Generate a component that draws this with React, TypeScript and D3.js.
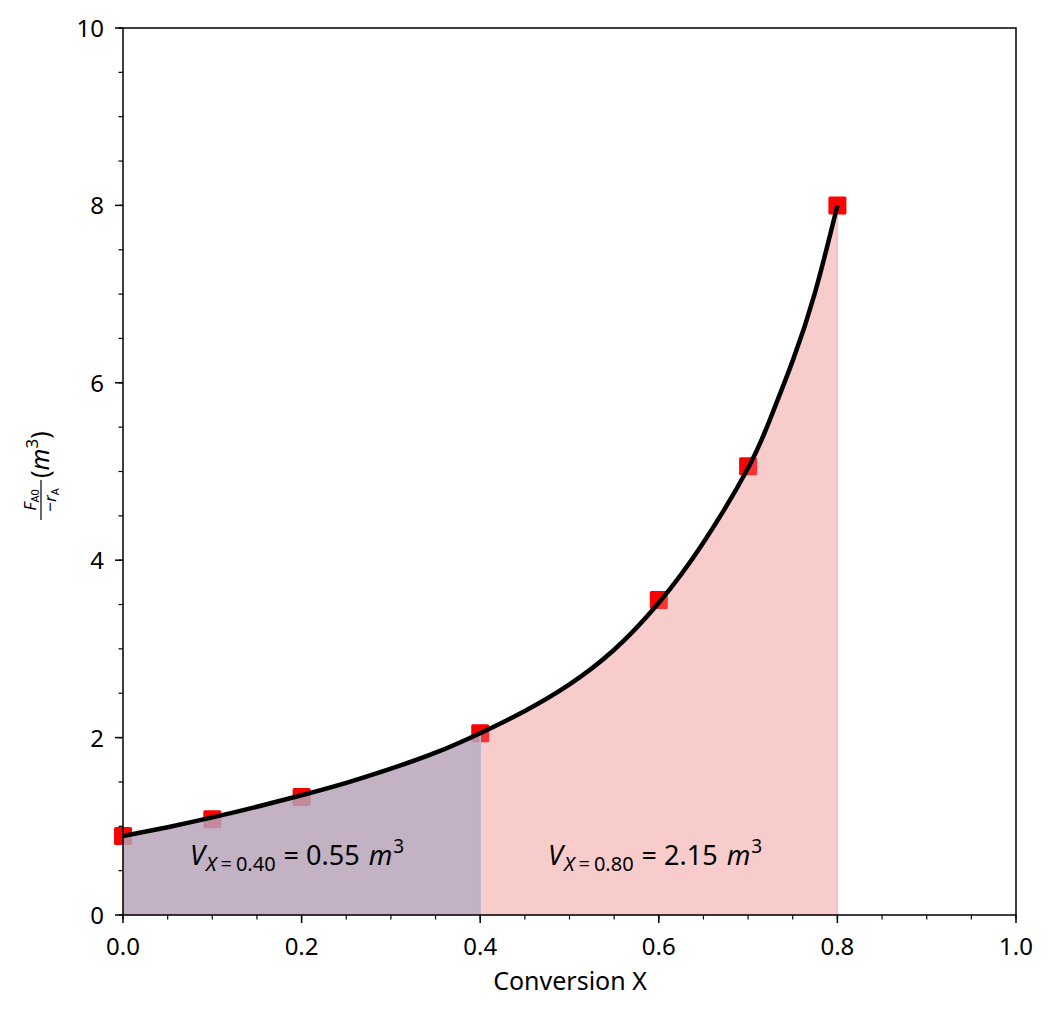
import React from "react";
import * as d3 from "d3";

// Measured data points (Conversion X, FA0/-rA in m^3)
const pointX = [0.0, 0.1, 0.2, 0.4, 0.6, 0.7, 0.8];
const pointY = [0.89, 1.08, 1.33, 2.05, 3.55, 5.06, 8.0];

// Fitted curve
const curveX = [0.0, 0.05, 0.1, 0.15, 0.2, 0.25, 0.3, 0.35, 0.4, 0.45, 0.5, 0.55, 0.6, 0.65, 0.7, 0.725, 0.75, 0.775, 0.8];
const curveY = [0.89, 0.99, 1.1, 1.22, 1.35, 1.49, 1.65, 1.83, 2.05, 2.3, 2.6, 2.99, 3.52, 4.2, 5.04, 5.6, 6.25, 7.02, 8.0];

const xTicks = [0, 0.2, 0.4, 0.6, 0.8, 1.0];
const yTicks = [0, 2, 4, 6, 8, 10];
const xMinorTicks = d3.range(0, 1.0001, 0.05);
const yMinorTicks = d3.range(0, 10.001, 0.5);

const limitLow = 0.4;
const limitHigh = 0.8;
const volumeLow = "0.55";
const volumeHigh = "2.15";

const W = 1055;
const H = 1014;
const L = 123, R = 1016, T = 28, B = 915;
const FONT = "'Noto Sans', 'Open Sans', sans-serif";

export default function App() {
  const x = d3.scaleLinear().domain([0, 1]).range([L, R]);
  const y = d3.scaleLinear().domain([0, 10]).range([B, T]);

  const pts = curveX.map((cx, i) => [cx, curveY[i]] as [number, number]);
  const line = d3.line<[number, number]>().x(d => x(d[0])).y(d => y(d[1])).curve(d3.curveNatural);
  const area = d3.area<[number, number]>().x(d => x(d[0])).y0(y(0)).y1(d => y(d[1])).curve(d3.curveNatural);
  const ptsHigh = pts.filter(p => p[0] <= limitHigh + 1e-9);
  const ptsLow = pts.filter(p => p[0] <= limitLow + 1e-9);
  const yAtLow = curveY[curveX.indexOf(limitLow)];

  const ms = 18;
  const fmt = (v: number) => v.toFixed(1);

  const annot = (x0: number, lim: string, vol: string) => (
    <text x={x0} y={865} fontSize={27} fontFamily={FONT} fill="#000">
      <tspan fontStyle="italic">V</tspan>
      <tspan fontSize={20} dy={6} dx={1} fontStyle="italic">X</tspan>
      <tspan fontSize={20} dx={4}>=</tspan>
      <tspan fontSize={20} dx={4}>{lim}</tspan>
      <tspan dy={-6} dx={8}>=</tspan>
      <tspan dx={7}>{vol}</tspan>
      <tspan dx={9} fontStyle="italic">m</tspan>
      <tspan fontSize={19} dy={-12} dx={1}>3</tspan>
    </text>
  );

  return (
    <svg width={W} height={H} style={{ position: "absolute", left: 0, top: 0, background: "#fff" }}>
      <rect x={0} y={0} width={W} height={H} fill="#fff" />
      {/* markers (under fills) */}
      {pointX.map((px, i) => (
        <rect key={i} x={x(px) - ms / 2} y={y(pointY[i]) - ms / 2} width={ms} height={ms} rx={1.5} fill="#ff0000" />
      ))}
      {/* fills */}
      <path d={area(ptsHigh) || ""} fill="lightcoral" fillOpacity={0.4} stroke="lightcoral" strokeOpacity={0.4} strokeWidth={1.5} />
      <path d={area(ptsLow) || ""} fill="rgb(175,170,192)" fillOpacity={0.75} />
      <line x1={x(limitLow)} x2={x(limitLow)} y1={y(0)} y2={y(yAtLow)} stroke="#b8b9d4" strokeWidth={1.5} />
      {/* curve */}
      <path d={line(pts) || ""} fill="none" stroke="#000" strokeWidth={4.5} />
      {/* annotations */}
      {annot(190, limitLow.toFixed(2), volumeLow)}
      {annot(548, limitHigh.toFixed(2), volumeHigh)}
      {/* frame */}
      <rect x={L} y={T} width={R - L} height={B - T} fill="none" stroke="#000" strokeWidth={1.5} />
      {/* x ticks */}
      {xMinorTicks.map((t, i) => (
        <line key={"xm" + i} x1={x(t)} x2={x(t)} y1={B} y2={B + 4.5} stroke="#000" strokeWidth={1.2} />
      ))}
      {xTicks.map((t, i) => (
        <g key={"x" + i}>
          <line x1={x(t)} x2={x(t)} y1={B} y2={B + 8} stroke="#000" strokeWidth={1.5} />
          <text x={x(t)} y={955} textAnchor="middle" fontSize={24} fontFamily={FONT}>{fmt(t)}</text>
        </g>
      ))}
      {/* y ticks */}
      {yMinorTicks.map((t, i) => (
        <line key={"ym" + i} x1={L - 4.5} x2={L} y1={y(t)} y2={y(t)} stroke="#000" strokeWidth={1.2} />
      ))}
      {yTicks.map((t, i) => (
        <g key={"y" + i}>
          <line x1={L - 8} x2={L} y1={y(t)} y2={y(t)} stroke="#000" strokeWidth={1.5} />
          <text x={104} y={y(t) + 9} textAnchor="end" fontSize={24} fontFamily={FONT}>{String(t)}</text>
        </g>
      ))}
      {/* axis labels */}
      <text x={570} y={990} textAnchor="middle" fontSize={25} fontFamily={FONT}>Conversion X</text>
      <g transform="translate(41,474) rotate(-90)" fontFamily={FONT}>
        <line x1={-46} x2={-6} y1={0} y2={0} stroke="#000" strokeWidth={1.2} />
        <text x={-26} y={-5} textAnchor="middle" fontSize={17}>
          <tspan fontStyle="italic">F</tspan>
          <tspan fontSize={11} dy={3}>A0</tspan>
        </text>
        <text x={-26} y={15} textAnchor="middle" fontSize={17}>
          <tspan>{"\u2212"}</tspan>
          <tspan fontStyle="italic">r</tspan>
          <tspan fontSize={11} dy={3}>A</tspan>
        </text>
        <text x={-4} y={8} fontSize={25}>
          <tspan>(</tspan>
          <tspan fontStyle="italic">m</tspan>
          <tspan fontSize={17} dy={-11}>3</tspan>
          <tspan dy={11}>)</tspan>
        </text>
      </g>
    </svg>
  );
}
